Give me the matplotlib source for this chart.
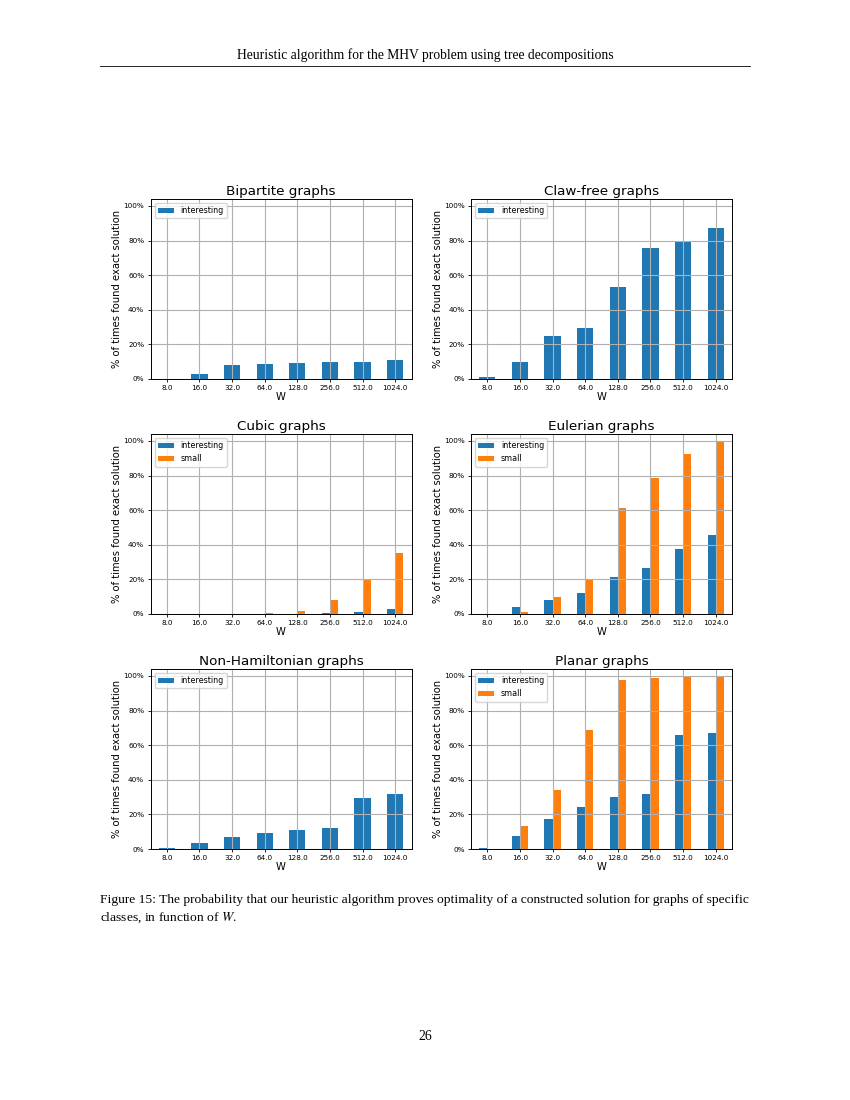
import numpy as np
import matplotlib.pyplot as plt
from matplotlib.lines import Line2D
from matplotlib.ticker import PercentFormatter

# values (fraction of times the exact solution was found)
w_labels = ['8.0', '16.0', '32.0', '64.0', '128.0', '256.0', '512.0', '1024.0']

bipartite_int = [0.002, 0.029, 0.078, 0.087, 0.093, 0.097, 0.101, 0.107]
clawfree_int = [0.012, 0.097, 0.247, 0.297, 0.530, 0.759, 0.796, 0.870]
cubic_int = [0.0, 0.0, 0.0, 0.0, 0.0, 0.003, 0.012, 0.031]
cubic_small = [0.0, 0.0, 0.0, 0.003, 0.017, 0.082, 0.200, 0.355]
eulerian_int = [0.002, 0.039, 0.080, 0.122, 0.214, 0.268, 0.375, 0.454]
eulerian_small = [0.0, 0.012, 0.099, 0.202, 0.612, 0.784, 0.924, 0.992]
nonham_int = [0.003, 0.033, 0.070, 0.091, 0.111, 0.120, 0.293, 0.318]
planar_int = [0.008, 0.074, 0.175, 0.243, 0.301, 0.317, 0.658, 0.668]
planar_small = [0.0, 0.132, 0.342, 0.689, 0.977, 0.990, 0.998, 0.998]

panels = [
    ('Bipartite graphs', bipartite_int, None),
    ('Claw-free graphs', clawfree_int, None),
    ('Cubic graphs', cubic_int, cubic_small),
    ('Eulerian graphs', eulerian_int, eulerian_small),
    ('Non-Hamiltonian graphs', nonham_int, None),
    ('Planar graphs', planar_int, planar_small),
]

plt.rcParams['mathtext.fontset'] = 'stix'

W, H = 850., 1100.
lefts = [150.5, 471.]
rows = [(199., 379.), (434., 614.), (669., 849.)]

fig = plt.figure(figsize=(8.5, 11), dpi=100)

serif = 'Liberation Serif'
fig.text(0.5, 1 - 55 / H, 'Heuristic algorithm for the MHV problem using tree decompositions',
         ha='center', va='center', family=serif, fontsize=9.85)
fig.add_artist(Line2D([100 / W, 750 / W], [1 - 66 / H] * 2, color='black', lw=0.6))

x = np.arange(len(w_labels))
for i, (title, inter, small) in enumerate(panels):
    top, bot = rows[i // 2]
    left = lefts[i % 2]
    ax = fig.add_axes([left / W, 1 - bot / H, 261 / W, (bot - top) / H])
    if small is None:
        ax.bar(x, inter, 0.5, color='#1f77b4', label='interesting')
    else:
        ax.bar(x - 0.125, inter, 0.25, color='#1f77b4', label='interesting')
        ax.bar(x + 0.125, small, 0.25, color='#ff7f0e', label='small')
    ax.set_xlim(-0.5, 7.5)
    ax.set_ylim(0, 1.04)
    ax.set_xticks(x)
    ax.set_xticklabels(w_labels)
    ax.set_yticks(np.arange(0, 1.01, 0.2))
    ax.yaxis.set_major_formatter(PercentFormatter(1.0, decimals=0))
    ax.tick_params(labelsize=5.2, length=2.5, width=0.6, pad=2)
    ax.grid(True, color='#b0b0b0', lw=0.8)
    for s in ax.spines.values():
        s.set_linewidth(0.7)
    ax.set_title(title, fontsize=9.7, pad=3)
    ax.set_xlabel('W', fontsize=7.2, labelpad=0.5)
    ax.set_ylabel('% of times found exact solution', fontsize=7.2, labelpad=1)
    ax.legend(loc='upper left', fontsize=5.8)

fig.text(100 / W, 1 - 900 / H,
         'Figure 15: The probability that our heuristic algorithm proves optimality of a '
         'constructed solution for graphs of specific',
         ha='left', va='center', family=serif, fontsize=9.7)
fig.text(100 / W, 1 - 918 / H, 'classes, in function of $W$.',
         ha='left', va='center', family=serif, fontsize=9.7)
fig.text(0.5, 1 - 1036 / H, '26', ha='center', va='center', family=serif, fontsize=9.8)

fig.savefig('out.png', dpi=100)
